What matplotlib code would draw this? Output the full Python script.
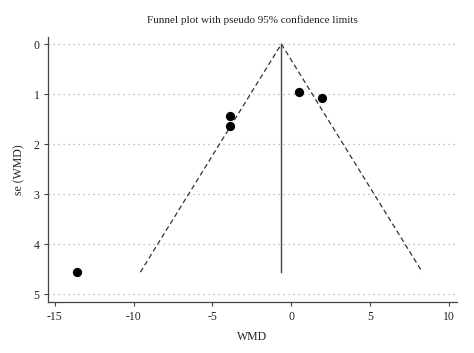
import matplotlib
matplotlib.use("Agg")
import matplotlib.pyplot as plt
import numpy as np

plt.rcParams['font.family'] = ['Liberation Serif', 'DejaVu Serif']

wmd = [-13.57, -3.9, -3.87, 0.51, 1.97]
se = [4.56, 1.43, 1.64, 0.95, 1.08]
pooled = -0.63
se_max = 4.56
xticks = [-15, -10, -5, 0, 5, 10]
yticks = [0, 1, 2, 3, 4, 5]

fig = plt.figure(figsize=(4.74, 3.53), dpi=100)
ax = fig.add_axes([0.101, 0.144, 0.863, 0.751])

for t in yticks:
    ax.axhline(t, color='#aaaaaa', linestyle=(0, (1, 3)), linewidth=0.9, zorder=0)

# funnel
ax.plot([pooled - 1.96 * se_max, pooled, pooled + 1.96 * se_max],
        [se_max, 0, se_max], color='#333333', linestyle=(0, (4, 2.5)), linewidth=0.9)
ax.plot([pooled, pooled], [0, se_max], color='#444444', linewidth=1.0)

ax.scatter(wmd, se, s=32, color='black', zorder=3)

ax.set_xlim(-15.43, 10.5)
ax.set_ylim(5.16, -0.14)
ax.set_xticks(xticks)
ax.set_yticks(yticks)
ax.set_xticklabels([str(v) for v in xticks])
ax.set_yticklabels([str(v) for v in yticks], rotation=0)
ax.tick_params(direction='out', length=3, width=0.8, labelsize=8.5, color='#444444',
               labelcolor='#222222', pad=3)
for s in ['top', 'right']:
    ax.spines[s].set_visible(False)
for s in ['left', 'bottom']:
    ax.spines[s].set_color('#444444')
    ax.spines[s].set_linewidth(0.9)

ax.set_xlabel('WMD', fontsize=8.5, labelpad=6, color='#222222')
ax.set_ylabel('se (WMD)', fontsize=8.5, labelpad=6, color='#222222')
ax.set_title('Funnel plot with pseudo 95% confidence limits', fontsize=8, pad=10, color='#222222')

fig.savefig('out.png', dpi=100)
